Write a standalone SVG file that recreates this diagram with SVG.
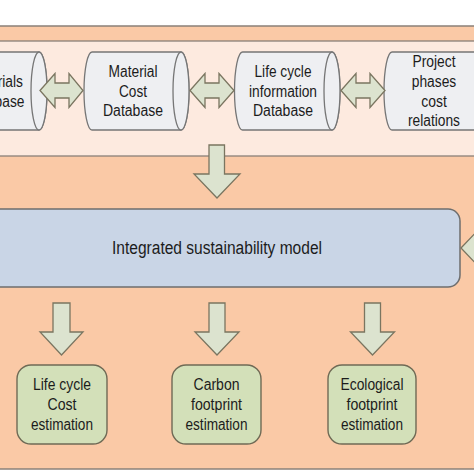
<svg xmlns="http://www.w3.org/2000/svg" width="474" height="474" viewBox="0 0 474 474">
<style>
.t{font-family:"Liberation Sans",Arial,sans-serif;font-size:16px;fill:#1c1c1c;text-anchor:middle}
.big{font-size:18px}
.cyl{fill:#eeeff2;stroke:#767676;stroke-width:1.3}
.arr{fill:#dce3cf;stroke:#7a7560;stroke-width:1.3;stroke-linejoin:miter}
.box{fill:#d3e0b9;stroke:#6f6a55;stroke-width:1.4}
</style>
<rect x="0" y="0" width="474" height="474" fill="#ffffff"/>
<g id="background">
<rect x="-10" y="26" width="494" height="443" fill="#fac9a6" stroke="#8a8078" stroke-width="1.5"/>
<rect x="-10" y="41" width="494" height="115" fill="#fdeadf" stroke="#8a8078" stroke-width="1.3"/>
</g>
<g id="materials-db">
<path class="cyl" d="M-50,52 L39,52 A8 39 0 0 1 39,130 L-50,130 A8 39 0 0 1 -50,52 Z"/>
<ellipse class="cyl" cx="39" cy="91" rx="8" ry="39"/>
<text class="t" x="-5" y="86.5" textLength="56" lengthAdjust="spacingAndGlyphs">Materials</text>
<text class="t" x="-5" y="106.5" textLength="59" lengthAdjust="spacingAndGlyphs">Database</text>
</g>
<g id="material-cost-db">
<path class="cyl" d="M92,52 L181,52 A8 39 0 0 1 181,130 L92,130 A8 39 0 0 1 92,52 Z"/>
<ellipse class="cyl" cx="181" cy="91" rx="8" ry="39"/>
<text class="t" x="133" y="77" textLength="49" lengthAdjust="spacingAndGlyphs">Material</text>
<text class="t" x="133" y="97" textLength="28" lengthAdjust="spacingAndGlyphs">Cost</text>
<text class="t" x="133" y="116" textLength="60" lengthAdjust="spacingAndGlyphs">Database</text>
</g>
<g id="life-cycle-db">
<path class="cyl" d="M242.5,52 L332,52 A8 39 0 0 1 332,130 L242.5,130 A8 39 0 0 1 242.5,52 Z"/>
<ellipse class="cyl" cx="332" cy="91" rx="8" ry="39"/>
<text class="t" x="283" y="77" textLength="57" lengthAdjust="spacingAndGlyphs">Life cycle</text>
<text class="t" x="283" y="97" textLength="68" lengthAdjust="spacingAndGlyphs">information</text>
<text class="t" x="283" y="116" textLength="60" lengthAdjust="spacingAndGlyphs">Database</text>
</g>
<g id="project-phases">
<path class="cyl" d="M392,52 L490,52 L490,130 L392,130 A8 39 0 0 1 392,52 Z"/>
<text class="t" x="434" y="67" textLength="43" lengthAdjust="spacingAndGlyphs">Project</text>
<text class="t" x="434" y="87" textLength="44.5" lengthAdjust="spacingAndGlyphs">phases</text>
<text class="t" x="434" y="106.5" textLength="25.5" lengthAdjust="spacingAndGlyphs">cost</text>
<text class="t" x="434" y="126" textLength="52" lengthAdjust="spacingAndGlyphs">relations</text>
</g>
<g id="model">
<rect x="-20" y="209" width="480" height="78" rx="12" ry="12" fill="#c9d5e6" stroke="#6e6e6e" stroke-width="1.5"/>
<text class="t big" x="217" y="254" textLength="210" lengthAdjust="spacingAndGlyphs">Integrated sustainability model</text>
</g>
<g id="lcc">
<rect class="box" x="17" y="365" width="90" height="79" rx="14" ry="14"/>
<text class="t" x="62" y="390" textLength="58" lengthAdjust="spacingAndGlyphs">Life cycle</text>
<text class="t" x="62" y="410" textLength="29" lengthAdjust="spacingAndGlyphs">Cost</text>
<text class="t" x="62" y="430" textLength="62" lengthAdjust="spacingAndGlyphs">estimation</text>
</g>
<g id="carbon">
<rect class="box" x="172" y="365" width="89" height="79" rx="14" ry="14"/>
<text class="t" x="216.5" y="390" textLength="46" lengthAdjust="spacingAndGlyphs">Carbon</text>
<text class="t" x="216.5" y="410" textLength="51" lengthAdjust="spacingAndGlyphs">footprint</text>
<text class="t" x="216.5" y="430" textLength="62" lengthAdjust="spacingAndGlyphs">estimation</text>
</g>
<g id="ecological">
<rect class="box" x="328" y="365" width="88" height="79" rx="14" ry="14"/>
<text class="t" x="372" y="390" textLength="63" lengthAdjust="spacingAndGlyphs">Ecological</text>
<text class="t" x="372" y="410" textLength="51" lengthAdjust="spacingAndGlyphs">footprint</text>
<text class="t" x="372" y="430" textLength="62" lengthAdjust="spacingAndGlyphs">estimation</text>
</g>
<g id="connectors">
<polygon class="arr" points="40,90.5 55,73.5 55,83 69,83 69,73.5 83,90.5 69,107.5 69,98 55,98 55,107.5"/>
<polygon class="arr" points="190,90.5 205,73.5 205,83 219,83 219,73.5 234,90.5 219,107.5 219,98 205,98 205,107.5"/>
<polygon class="arr" points="341,90.5 356,73.5 356,83 370,83 370,73.5 385,90.5 370,107.5 370,98 356,98 356,107.5"/>
<polygon class="arr" points="209,145 224.5,145 224.5,174 240,174 217,198 194,174 209,174"/>
<polygon class="arr" points="53,303 70,303 70,332 83,332 61.5,355 40,332 53,332"/>
<polygon class="arr" points="209,303 225,303 225,332 239,332 217,355 195,332 209,332"/>
<polygon class="arr" points="364.5,303 380.5,303 380.5,332 394.5,332 372.5,355 350.5,332 364.5,332"/>
<polygon class="arr" points="461,248 482,226 482,236 500,236 500,260 482,260 482,270"/>
</g>
</svg>
